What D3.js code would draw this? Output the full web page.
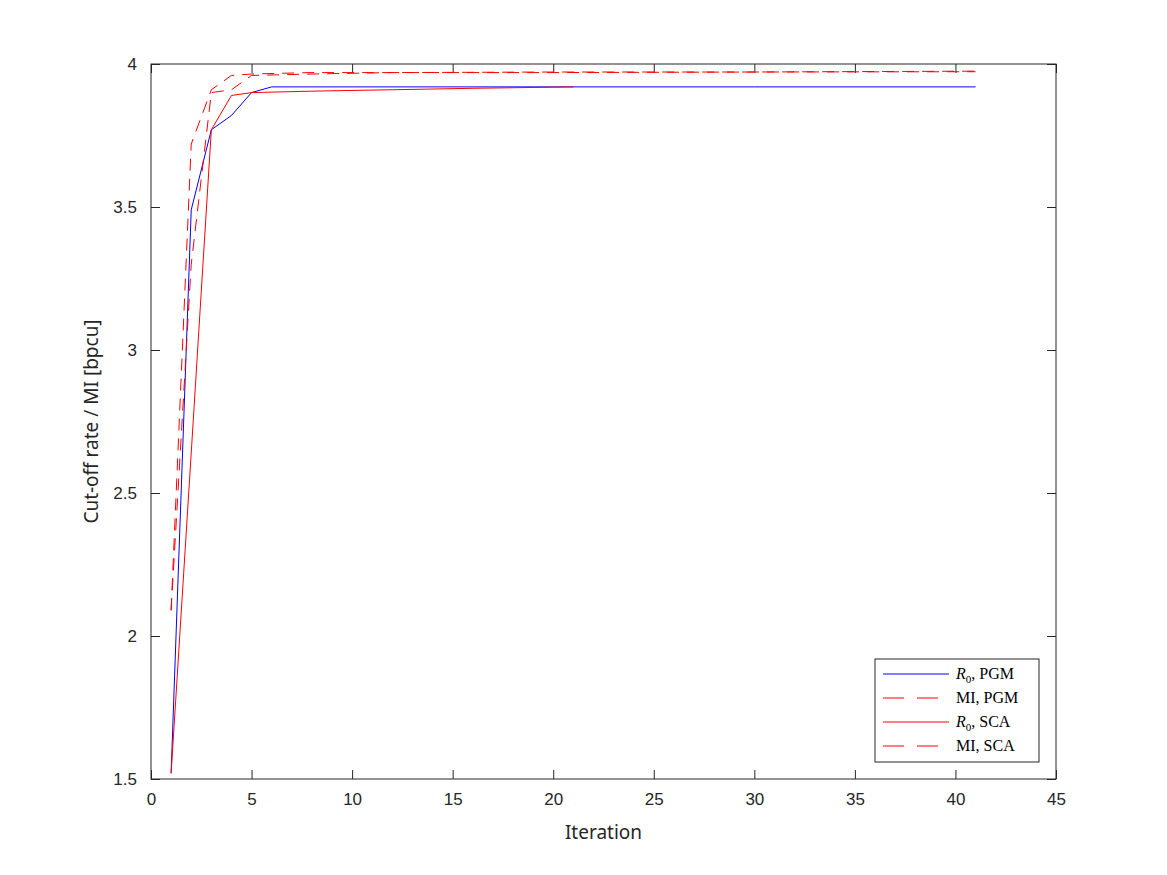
<!DOCTYPE html>
<html><head><meta charset="utf-8">
<script src="https://cdn.jsdelivr.net/npm/d3@7"></script>
<style>body{margin:0;background:#fff}svg{font-family:"Noto Sans",sans-serif}</style>
</head><body>
<script>
var r0PgmX = [1, 2, 3, 4, 5, 6, 10, 20, 30, 41];
var r0PgmY = [1.52, 3.49, 3.77, 3.82, 3.90, 3.92, 3.92, 3.92, 3.92, 3.92];
var r0ScaX = [1, 2, 3, 4, 5, 8, 12, 16, 21];
var r0ScaY = [1.52, 2.64, 3.77, 3.89, 3.90, 3.905, 3.91, 3.915, 3.92];
var miPgmX = [1, 2, 3, 4, 5, 8, 12, 20, 30, 41];
var miPgmY = [2.09, 3.72, 3.91, 3.96, 3.965, 3.97, 3.97, 3.972, 3.972, 3.975];
var miScaX = [1, 2, 3, 4, 5, 8, 12, 20, 30, 41];
var miScaY = [2.09, 3.30, 3.90, 3.91, 3.96, 3.965, 3.97, 3.97, 3.972, 3.973];
var xTicks = [0, 5, 10, 15, 20, 25, 30, 35, 40, 45];
var yTicks = [1.5, 2, 2.5, 3, 3.5, 4];

var series = [
  {x: r0PgmX, y: r0PgmY, color: '#0000ff', dash: null, name: 'R', sub: '0', tail: ', PGM'},
  {x: miPgmX, y: miPgmY, color: '#ff0000', dash: '12,8', name: 'MI', tail: ', PGM'},
  {x: r0ScaX, y: r0ScaY, color: '#ff0000', dash: null, name: 'R', sub: '0', tail: ', SCA'},
  {x: miScaX, y: miScaY, color: '#ff0000', dash: '12,8', name: 'MI', tail: ', SCA'}
];

var svg = d3.select('body').append('svg').attr('width', 1167).attr('height', 875);
var L = 151, T = 64, W = 905, H = 715;
var sx = d3.scaleLinear().domain([0, 45]).range([L, L + W]);
var sy = d3.scaleLinear().domain([1.5, 4]).range([T + H, T]);

var plot = svg.append('g');
plot.append('rect').attr('x', L).attr('y', T).attr('width', W).attr('height', H)
  .attr('fill', 'none').attr('stroke', '#262626');

function styleAxis(g) {
  g.select('.domain').remove();
  g.selectAll('line').attr('stroke', '#262626');
  g.selectAll('text').attr('fill', '#262626').style('font-size', '17px');
}
plot.append('g').attr('transform', 'translate(0,' + (T + H) + ')')
  .call(d3.axisBottom(sx).tickValues(xTicks).tickSizeInner(-9).tickSizeOuter(0).tickPadding(14))
  .call(styleAxis);
plot.append('g').attr('transform', 'translate(0,' + T + ')')
  .call(d3.axisTop(sx).tickValues(xTicks).tickSizeInner(-9).tickSizeOuter(0).tickFormat(''))
  .call(styleAxis);
plot.append('g').attr('transform', 'translate(' + L + ',0)')
  .call(d3.axisLeft(sy).tickValues(yTicks).tickSizeInner(-9).tickSizeOuter(0).tickPadding(14).tickFormat(d3.format('')))
  .call(styleAxis);
plot.append('g').attr('transform', 'translate(' + (L + W) + ',0)')
  .call(d3.axisRight(sy).tickValues(yTicks).tickSizeInner(-9).tickSizeOuter(0).tickFormat(''))
  .call(styleAxis);

svg.append('text').attr('x', L + W / 2).attr('y', 839).attr('text-anchor', 'middle')
  .attr('fill', '#262626').style('font-size', '19px').text('Iteration');
svg.append('text').attr('transform', 'translate(98,' + (T + H / 2) + ') rotate(-90)')
  .attr('text-anchor', 'middle').attr('fill', '#262626').style('font-size', '19px')
  .text('Cut-off rate / MI [bpcu]');

var line = d3.line().x(function(d) { return sx(d[0]); }).y(function(d) { return sy(d[1]); });
series.forEach(function(s) {
  plot.append('path').attr('d', line(d3.zip(s.x, s.y)))
    .attr('fill', 'none').attr('stroke', s.color).attr('stroke-width', 1)
    .attr('stroke-dasharray', s.dash);
});

var lg = svg.append('g').attr('transform', 'translate(875,659)');
lg.append('rect').attr('width', 164).attr('height', 103).attr('fill', '#fff').attr('stroke', '#262626');
series.forEach(function(s, i) {
  var y = 15 + i * 24;
  lg.append('line').attr('x1', 8).attr('x2', 74).attr('y1', y).attr('y2', y)
    .attr('stroke', s.color).attr('stroke-dasharray', s.dash ? '21,13' : null);
  var t = lg.append('text').attr('x', 81).attr('y', y + 5)
    .style('font-family', '"Liberation Serif",serif').style('font-size', '16px').attr('fill', '#000');
  if (s.sub) {
    t.append('tspan').style('font-style', 'italic').text(s.name);
    t.append('tspan').attr('dy', 4).style('font-size', '11px').text(s.sub);
    t.append('tspan').attr('dy', -4).text(s.tail);
  } else {
    t.text(s.name + s.tail);
  }
});
</script>
</body></html>
